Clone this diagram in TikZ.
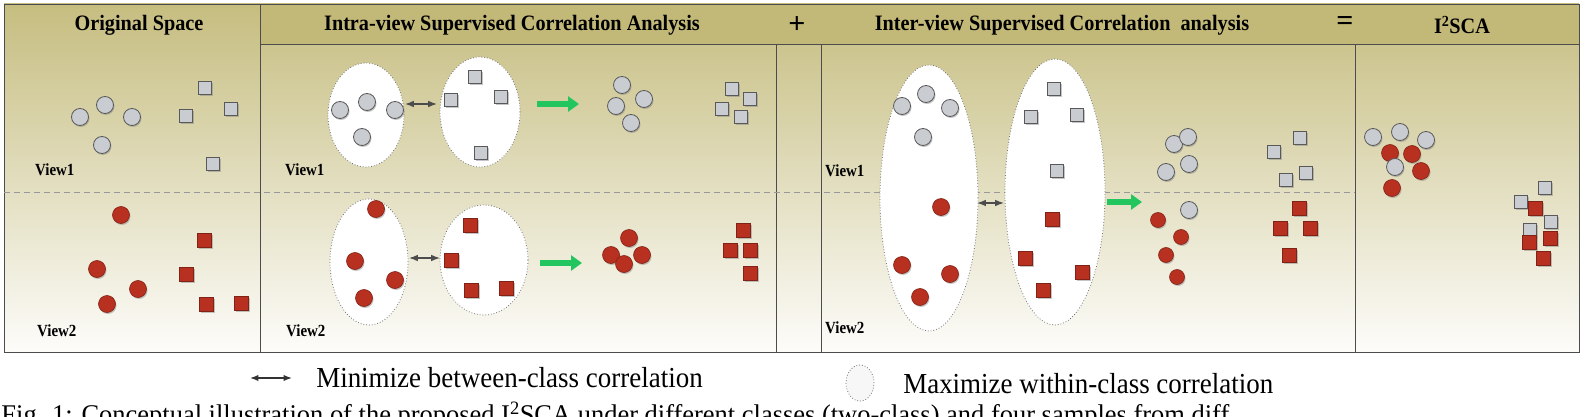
\documentclass[tikz,border=0pt]{standalone}
\usepackage{fontspec}
\setmainfont{Liberation Serif}
\usetikzlibrary{arrows.meta,shapes.geometric,shadows}
\definecolor{olive}{HTML}{C6BD80}
\definecolor{band}{HTML}{C2B878}
\definecolor{gfill}{HTML}{C9CDD2}
\definecolor{rfill}{HTML}{B8301F}
\definecolor{grn}{HTML}{22C55E}
\tikzset{
  gc/.style={circle,draw=gray!70!black,fill=gfill,minimum size=17pt,inner sep=0pt,line width=0.8pt,drop shadow={shadow xshift=1pt,shadow yshift=-1.5pt,opacity=.45}},
  rc/.style={circle,draw=rfill!70!black,fill=rfill,minimum size=17pt,inner sep=0pt,line width=0.6pt,drop shadow={shadow xshift=1pt,shadow yshift=-1.5pt,opacity=.45}},
  gs/.style={rectangle,draw=gray!70!black,fill=gfill,minimum size=13pt,inner sep=0pt,line width=0.8pt,drop shadow={shadow xshift=1.5pt,shadow yshift=-1.5pt,opacity=.45}},
  rs/.style={rectangle,draw=rfill!70!black,fill=rfill,minimum size=14pt,inner sep=0pt,line width=0.6pt,drop shadow={shadow xshift=1.5pt,shadow yshift=-1.5pt,opacity=.45}},
  el/.style={ellipse,draw=gray!90!black,dotted,line width=0.8pt,fill=white,inner sep=0pt},
  hd/.style={font=\fontsize{22}{24}\selectfont\bfseries,xscale=0.92,transform shape},
  vw/.style={font=\fontsize{17}{19}\selectfont\bfseries,xscale=0.88,transform shape,anchor=west},
  bc/.style={Latex-Latex,draw=gray!60!black,line width=1.3pt},
  ga/.style={-{Triangle[length=11pt,width=15pt]},draw=grn,line width=6pt},
  lg/.style={font=\fontsize{29}{31}\selectfont,xscale=0.93,transform shape,anchor=west},
}
\begin{document}
\begin{tikzpicture}[x=1pt,y=-1pt]
\useasboundingbox (0,0) rectangle (1589,417);
\clip (0,0) rectangle (1589,417);
\fill[white] (0,0) rectangle (1589,417);
% panel background
\shade[top color=olive,bottom color=white!96!olive] (4,4) rectangle (1579,352);
\fill[band] (260,4) rectangle (1579,45);
\draw[gray!60!black,line width=0.8pt] (4,4) rectangle (1579,352);
\draw[gray!60!black,line width=1pt] (260,45) -- (1579,45);
\draw[gray!60!black,line width=0.6pt] (260,4) -- (260,352);
\draw[gray!60!black,line width=0.6pt] (776,45) -- (776,352);
\draw[gray!60!black,line width=0.6pt] (821,45) -- (821,352);
\draw[gray!60!black,line width=0.6pt] (1355,45) -- (1355,352);
\draw[gray!80,dash pattern=on 6pt off 4pt,line width=0.8pt] (4,192) -- (1355,192);
% headers
\node[hd] (h1) at (139,25) {Original Space};
\node[hd] (h2) at (512,25) {Intra-view Supervised Correlation Analysis};
\node[font=\fontsize{30}{30}\selectfont\bfseries] (hp) at (797,25) {+};
\node[hd] (h3) at (1062,25) {Inter-view Supervised Correlation\ \ analysis};
\node[font=\fontsize{30}{30}\selectfont\bfseries] (he) at (1345,23) {=};
\node[hd] (h4) at (1462,25) {I\textsuperscript{2}SCA};
% view labels
\node[vw] (v1a) at (32,170) {View1};
\node[vw] (v2a) at (34,331) {View2};
\node[vw] (v1b) at (282,170) {View1};
\node[vw] (v2b) at (283,331) {View2};
\node[vw] (v1c) at (822,171) {View1};
\node[vw] (v2c) at (822,328) {View2};
% original space
\foreach \x/\y [count=\i] in {80/117,105/105,132/117,102/145} \node[gc] (og\i) at (\x,\y) {};
\foreach \x/\y [count=\i] in {205/88,231/109,186/116,213/164} \node[gs] (os\i) at (\x,\y) {};
\foreach \x/\y [count=\i] in {121/215,97/269,138/289,107/304} \node[rc] (orc\i) at (\x,\y) {};
\foreach \x/\y [count=\i] in {204/240,186/274,206/304,241/303} \node[rs] (ors\i) at (\x,\y) {};
% intra view1
\node[el,minimum width=76pt,minimum height=104pt] (ia1) at (366,115) {};
\node[el,minimum width=80pt,minimum height=110pt] (ia2) at (480,112) {};
\foreach \x/\y [count=\i] in {340/110,367/102,395/110,362/137} \node[gc] (ig\i) at (\x,\y) {};
\foreach \x/\y [count=\i] in {475/77,451/100,501/97,481/153} \node[gs] (is\i) at (\x,\y) {};
\coordinate (ba1) at (405,104); \coordinate (ba2) at (437,104);
\draw[bc] (ba1) -- (ba2);
\coordinate (gaa) at (537,104); \coordinate (gab) at (579,104);
\draw[ga] (gaa) -- (gab);
\foreach \x/\y [count=\i] in {622/85,616/106,644/99,631/123} \node[gc] (iog\i) at (\x,\y) {};
\foreach \x/\y [count=\i] in {732/89,750/99,722/109,741/117} \node[gs] (ios\i) at (\x,\y) {};
% intra view2
\node[el,minimum width=78pt,minimum height=126pt] (ib1) at (369,262) {};
\node[el,minimum width=88pt,minimum height=110pt] (ib2) at (484,260) {};
\foreach \x/\y [count=\i] in {376/209,355/261,395/280,364/298} \node[rc] (irc\i) at (\x,\y) {};
\foreach \x/\y [count=\i] in {470/225,451/260,471/290,506/288} \node[rs] (irs\i) at (\x,\y) {};
\coordinate (bb1) at (409,258); \coordinate (bb2) at (440,258);
\draw[bc] (bb1) -- (bb2);
\coordinate (gba) at (540,263); \coordinate (gbb) at (582,263);
\draw[ga] (gba) -- (gbb);
\foreach \x/\y [count=\i] in {629/238,611/255,642/255,624/264} \node[rc] (iorc\i) at (\x,\y) {};
\foreach \x/\y [count=\i] in {743/230,730/250,750/250,750/273} \node[rs] (iors\i) at (\x,\y) {};
% inter
\node[el,minimum width=98pt,minimum height=266pt] (ea) at (929,198) {};
\node[el,minimum width=100pt,minimum height=266pt] (eb) at (1055,192) {};
\foreach \x/\y [count=\i] in {902/106,926/94,950/108,923/137} \node[gc] (eg\i) at (\x,\y) {};
\foreach \x/\y [count=\i] in {941/207,902/265,950/274,920/297} \node[rc] (erc\i) at (\x,\y) {};
\foreach \x/\y [count=\i] in {1054/89,1031/117,1077/115,1057/171} \node[gs] (es\i) at (\x,\y) {};
\foreach \x/\y [count=\i] in {1052/219,1025/258,1082/272,1043/290} \node[rs] (ers\i) at (\x,\y) {};
\coordinate (bc1) at (977,203); \coordinate (bc2) at (1004,203);
\draw[bc] (bc1) -- (bc2);
\coordinate (gca) at (1107,202); \coordinate (gcb) at (1142,202);
\draw[ga] (gca) -- (gcb);
\foreach \x/\y [count=\i] in {1174/144,1188/137,1166/172,1189/164,1189/210} \node[gc] (eog\i) at (\x,\y) {};
\foreach \x/\y [count=\i] in {1158/220,1181/237,1166/255,1177/277} \node[rc,minimum size=15pt] (eorc\i) at (\x,\y) {};
\foreach \x/\y [count=\i] in {1300/138,1274/152,1306/173,1286/180} \node[gs] (eos\i) at (\x,\y) {};
\foreach \x/\y [count=\i] in {1299/208,1280/228,1310/228,1289/255} \node[rs] (eors\i) at (\x,\y) {};
% I2SCA
\foreach \x/\y [count=\i] in {1373/137,1400/132,1426/140} \node[gc] (fg\i) at (\x,\y) {};
\foreach \x/\y [count=\i] in {1390/153,1412/154,1421/171,1392/188} \node[rc] (frc\i) at (\x,\y) {};
\node[gc] (fg4) at (1395,167) {};
\node[gs] (fs1) at (1545,188) {};
\node[gs] (fs2) at (1521,202) {};
\node[rs] (frs1) at (1535,208) {};
\node[gs] (fs3) at (1551,222) {};
\node[gs] (fs4) at (1530,230) {};
\foreach \x/\y [count=\i] in {1550/238,1529/242,1543/258} \node[rs] (frs\i x) at (\x,\y) {};
% legend
\coordinate (lg1) at (250,378); \coordinate (lg2) at (292,378);
\draw[Latex-Latex,line width=1.2pt,draw=black!80] (lg1) -- (lg2);
\node[lg] (lt1) at (313,378) {Minimize between-class correlation};
\node[el,fill=white!94!gray,minimum width=28pt,minimum height=36pt] (lge) at (860,383) {};
\node[lg] (lt2) at (900,384) {Maximize within-class correlation};
\node[font=\fontsize{27}{29}\selectfont,anchor=north west,xscale=0.98,transform shape] (cap) at (-2,398) {Fig. 1: Conceptual illustration of the proposed I\textsuperscript{2}SCA under different classes (two-class) and four samples from diff};
\end{tikzpicture}
\end{document}
